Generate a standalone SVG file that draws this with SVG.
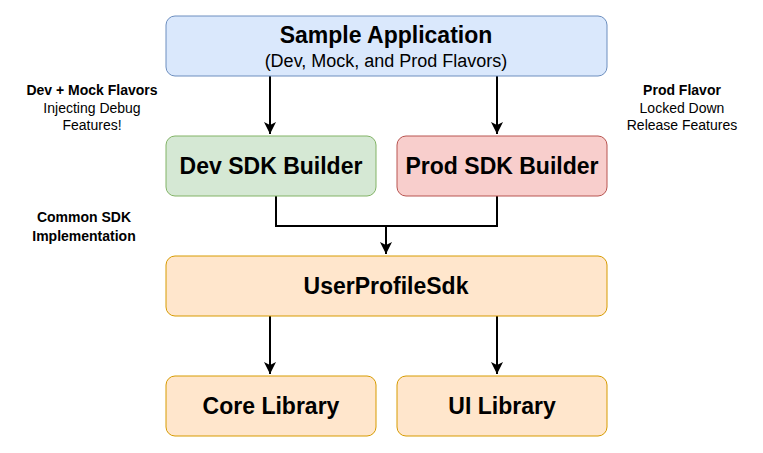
<svg xmlns="http://www.w3.org/2000/svg" width="763" height="453" viewBox="0 0 763 453">
<defs>
<marker id="ah" markerWidth="14" markerHeight="14" refX="12" refY="6" orient="auto" markerUnits="userSpaceOnUse"><path d="M0,0 L12,6 L0,12 L3,6 Z" fill="#000"/></marker>
<style>
text{font-family:"Liberation Sans",Arial,sans-serif;text-anchor:middle}
.t{font-size:23px;font-weight:bold}
.s{font-size:14px}
.b{font-weight:bold}
.c{fill:none;stroke:#000;stroke-width:2}
</style>
</defs>
<rect width="763" height="453" fill="#fff"/>
<g id="connectors">
<path class="c" d="M270,76 V134" marker-end="url(#ah)"/>
<path class="c" d="M497,76 V134" marker-end="url(#ah)"/>
<path class="c" d="M276,196 V226 H497 V196"/>
<path class="c" d="M386,226 V254" marker-end="url(#ah)"/>
<path class="c" d="M270,316 V374" marker-end="url(#ah)"/>
<path class="c" d="M497,316 V374" marker-end="url(#ah)"/>
</g>
<g id="app"><rect x="166" y="16" width="441" height="60" rx="9" fill="#dae8fc" stroke="#6c8ebf"/>
<text class="t" x="386" y="43">Sample Application</text><text x="386" y="67" font-size="18">(Dev, Mock, and Prod Flavors)</text></g>
<g id="dev"><rect x="166" y="136" width="210" height="60" rx="9" fill="#d5e8d4" stroke="#82b366"/><text class="t" x="271" y="174">Dev SDK Builder</text></g>
<g id="prod"><rect x="397" y="136" width="210" height="60" rx="9" fill="#f8cecc" stroke="#b85450"/><text class="t" x="502" y="174">Prod SDK Builder</text></g>
<g id="sdk"><rect x="166" y="256" width="441" height="60" rx="9" fill="#ffe6cc" stroke="#d79b00"/><text class="t" x="386" y="294">UserProfileSdk</text></g>
<g id="core"><rect x="166" y="376" width="210" height="60" rx="9" fill="#ffe6cc" stroke="#d79b00"/><text class="t" x="271" y="414">Core Library</text></g>
<g id="ui"><rect x="397" y="376" width="210" height="60" rx="9" fill="#ffe6cc" stroke="#d79b00"/><text class="t" x="502" y="414">UI Library</text></g>
<g id="labels">
<text class="s b" x="92" y="95">Dev + Mock Flavors</text>
<text class="s" x="92" y="113">Injecting Debug</text>
<text class="s" x="92" y="130">Features!</text>
<text class="s b" x="682" y="95">Prod Flavor</text>
<text class="s" x="682" y="113">Locked Down</text>
<text class="s" x="682" y="130">Release Features</text>
<text class="s b" x="84" y="222">Common SDK</text>
<text class="s b" x="84" y="241">Implementation</text>
</g>
</svg>
